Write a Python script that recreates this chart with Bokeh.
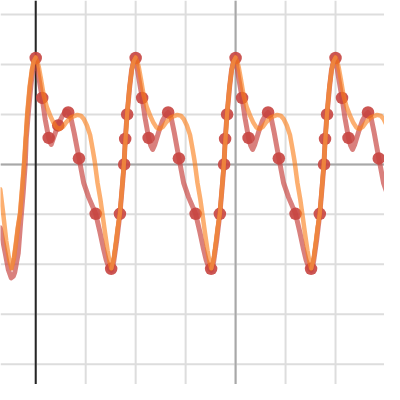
from bokeh.plotting import figure
from bokeh.models import Range1d, Span
from bokeh.embed import file_html
from bokeh.resources import INLINE

# ---------------- data ----------------
grid_x = [0, 1, 2, 3, 4, 5, 6, 7]
grid_y = [-4, -3, -2, -1, 0, 1, 2, 3]

# red data points
dot_x = [0.0, 0.13, 0.26, 0.45, 0.65, 0.865, 1.2, 1.51, 1.685, 1.77, 1.79, 1.83,
         2.0, 2.13, 2.26, 2.65, 2.865, 3.2, 3.51, 3.685, 3.77, 3.79, 3.83,
         4.0, 4.13, 4.26, 4.65, 4.865, 5.2, 5.51, 5.685, 5.77, 5.79, 5.83,
         6.0, 6.13, 6.26, 6.65, 6.865]
dot_y = [2.13, 1.33, 0.53, 0.78, 1.04, 0.12, -0.99, -2.09, -0.99, 0.0, 0.51, 1.0,
         2.13, 1.33, 0.53, 1.04, 0.12, -0.99, -2.09, -0.99, 0.0, 0.51, 1.0,
         2.13, 1.33, 0.53, 1.04, 0.12, -0.99, -2.09, -0.99, 0.0, 0.51, 1.0,
         2.13, 1.33, 0.53, 1.04, 0.12]

# red curve
red_x_left = [-0.71, -0.61, -0.55, -0.49, -0.45, -0.42, -0.35, -0.30, -0.25, -0.21, -0.19, -0.15, -0.10, -0.06, -0.02]
red_y_left = [-1.27, -1.78, -2.10, -2.27, -2.24, -2.16, -1.78, -1.14, -0.56, 0.01, 0.51, 1.01, 1.55, 1.90, 2.07]
red_x_p0 = [0.0, 0.06, 0.13, 0.19, 0.26, 0.31, 0.385, 0.45, 0.54, 0.60, 0.65, 0.70, 0.77, 0.865, 0.96,
            1.06, 1.15, 1.20, 1.28, 1.35, 1.41, 1.47, 1.515, 1.56, 1.62, 1.685, 1.73, 1.77, 1.79, 1.83, 1.88, 1.92, 1.96]
red_y_p0 = [2.13, 1.75, 1.32, 0.90, 0.53, 0.40, 0.61, 0.80, 0.98, 1.07, 1.05, 0.95, 0.63, 0.13, -0.37,
            -0.66, -0.87, -0.99, -1.33, -1.66, -1.91, -2.08, -2.12, -1.95, -1.53, -0.99, -0.47, 0.01, 0.51, 1.01, 1.55, 1.90, 2.07]
red_x_p1 = [2.0, 2.06, 2.13, 2.19, 2.26, 2.30, 2.34, 2.385, 2.46, 2.54, 2.60, 2.65, 2.71, 2.77, 2.865, 2.96,
            3.06, 3.15, 3.20, 3.28, 3.35, 3.41, 3.47, 3.515, 3.56, 3.62, 3.685, 3.73, 3.77, 3.79, 3.83, 3.88, 3.92, 3.96]
red_y_p1 = [2.13, 1.74, 1.33, 0.92, 0.53, 0.38, 0.30, 0.40, 0.65, 0.88, 0.99, 1.04, 0.94, 0.65, 0.13, -0.37,
            -0.66, -0.87, -0.99, -1.33, -1.66, -1.91, -2.08, -2.12, -1.95, -1.53, -0.99, -0.47, 0.01, 0.51, 1.01, 1.55, 1.90, 2.07]
red_x_p2 = [4.0, 4.06, 4.13, 4.19, 4.26, 4.30, 4.34, 4.385, 4.46, 4.54, 4.60, 4.65, 4.71, 4.77, 4.865, 4.96,
            5.06, 5.15, 5.20, 5.28, 5.35, 5.41, 5.47, 5.515, 5.56, 5.62, 5.685, 5.73, 5.77, 5.79, 5.83, 5.88, 5.92, 5.96]
red_y_p2 = [2.13, 1.74, 1.33, 0.92, 0.53, 0.38, 0.30, 0.40, 0.65, 0.88, 0.99, 1.04, 0.94, 0.65, 0.13, -0.37,
            -0.66, -0.87, -0.99, -1.33, -1.66, -1.91, -2.08, -2.12, -1.95, -1.53, -0.99, -0.47, 0.01, 0.51, 1.01, 1.55, 1.90, 2.07]
red_x_p3 = [6.0, 6.06, 6.13, 6.19, 6.26, 6.30, 6.34, 6.385, 6.46, 6.54, 6.60, 6.65, 6.71, 6.77, 6.865, 6.96, 7.06]
red_y_p3 = [2.13, 1.74, 1.33, 0.92, 0.53, 0.38, 0.30, 0.40, 0.65, 0.88, 0.99, 1.04, 0.94, 0.65, 0.13, -0.37, -0.66]

# light orange curve
org_x_left = [-0.71, -0.65, -0.59, -0.53, -0.485, -0.437, -0.398, -0.36, -0.315, -0.273, -0.235, -0.202, -0.171, -0.123, -0.077, -0.038]
org_y_left = [-0.50, -0.99, -1.53, -1.91, -2.08, -1.87, -1.58, -1.27, -0.98, -0.47, 0.01, 0.51, 1.01, 1.55, 1.90, 2.07]
org_y_per = [2.14, 2.05, 1.94, 1.69, 1.38, 1.15, 0.98, 0.84, 0.74, 0.71, 0.75, 0.84, 0.94, 0.99, 0.97, 0.91,
             0.78, 0.59, 0.30, 0.07, -0.37, -0.70, -1.04, -1.39, -1.72, -1.95, -2.08, -1.87, -1.58, -1.27,
             -0.98, -0.47, 0.01, 0.51, 1.01, 1.55, 1.90, 2.07]
org_x_p0 = [0.0, 0.033, 0.063, 0.108, 0.16, 0.221, 0.288, 0.352, 0.415, 0.481, 0.544, 0.608, 0.704, 0.833, 0.91, 0.962,
            1.025, 1.088, 1.14, 1.179, 1.237, 1.294, 1.342, 1.39, 1.438, 1.477, 1.515, 1.563, 1.602, 1.64,
            1.685, 1.727, 1.765, 1.798, 1.829, 1.877, 1.923, 1.962]
org_x_p1 = [2.0, 2.033, 2.063, 2.108, 2.16, 2.221, 2.288, 2.352, 2.415, 2.481, 2.544, 2.608, 2.704, 2.833, 2.91, 2.962,
            3.025, 3.088, 3.14, 3.179, 3.237, 3.294, 3.342, 3.39, 3.438, 3.477, 3.515, 3.563, 3.602, 3.64,
            3.685, 3.727, 3.765, 3.798, 3.829, 3.877, 3.923, 3.962]
org_x_p2 = [4.0, 4.033, 4.063, 4.108, 4.16, 4.221, 4.288, 4.352, 4.415, 4.481, 4.544, 4.608, 4.704, 4.833, 4.91, 4.962,
            5.025, 5.088, 5.14, 5.179, 5.237, 5.294, 5.342, 5.39, 5.438, 5.477, 5.515, 5.563, 5.602, 5.64,
            5.685, 5.727, 5.765, 5.798, 5.829, 5.877, 5.923, 5.962]
org_x_p3 = [6.0, 6.033, 6.063, 6.108, 6.16, 6.221, 6.288, 6.352, 6.415, 6.481, 6.544, 6.608, 6.704, 6.833, 6.91, 6.962, 7.025]
org_y_p3 = [2.14, 2.05, 1.94, 1.69, 1.38, 1.15, 0.98, 0.84, 0.74, 0.71, 0.75, 0.84, 0.94, 0.99, 0.97, 0.91, 0.78]

# dark orange rising segments
rise_xs = [
    [-0.485, -0.437, -0.398, -0.36, -0.315, -0.273, -0.235, -0.202, -0.171, -0.123, -0.077, -0.038, 0.0],
    [1.515, 1.563, 1.602, 1.64, 1.685, 1.727, 1.765, 1.798, 1.829, 1.877, 1.923, 1.962, 2.0],
    [3.515, 3.563, 3.602, 3.64, 3.685, 3.727, 3.765, 3.798, 3.829, 3.877, 3.923, 3.962, 4.0],
    [5.515, 5.563, 5.602, 5.64, 5.685, 5.727, 5.765, 5.798, 5.829, 5.877, 5.923, 5.962, 6.0],
]
rise_y = [-2.08, -1.87, -1.58, -1.27, -0.98, -0.47, 0.01, 0.51, 1.01, 1.55, 1.90, 2.07, 2.14]
rise_ys = [rise_y, rise_y, rise_y, rise_y]

red_x = red_x_left + red_x_p0 + red_x_p1 + red_x_p2 + red_x_p3
red_y = red_y_left + red_y_p0 + red_y_p1 + red_y_p2 + red_y_p3
org_x = org_x_left + org_x_p0 + org_x_p1 + org_x_p2 + org_x_p3
org_y = org_y_left + org_y_per + org_y_per + org_y_per + org_y_p3

# ---------------- figure ----------------
p = figure(width=384, height=384,
           x_range=Range1d(-0.705, 6.980), y_range=Range1d(-4.405, 3.280),
           output_backend="svg", toolbar_location=None,
           x_axis_location=None, y_axis_location=None,
           min_border=0, outline_line_color=None,
           background_fill_color="white", border_fill_color="white")
p.grid.visible = False

for gx in grid_x:
    p.add_layout(Span(location=gx, dimension="height", line_color="#dddddd", line_width=2, level="underlay"))
for gy in grid_y:
    p.add_layout(Span(location=gy, dimension="width", line_color="#dddddd", line_width=2, level="underlay"))
p.add_layout(Span(location=4, dimension="height", line_color="#a8a8a8", line_width=2, level="underlay"))
p.add_layout(Span(location=0, dimension="width", line_color="#a8a8a8", line_width=2, level="underlay"))
p.add_layout(Span(location=0, dimension="height", line_color="#262626", line_width=2, level="underlay"))

p.line(red_x, red_y, line_color="#c74440", line_alpha=0.68, line_width=5,
       line_join="round", line_cap="round")
p.scatter(dot_x, dot_y, size=12.5, fill_color="#c74440", fill_alpha=0.9, line_color=None)
p.line(org_x, org_y, line_color="#fa7e19", line_alpha=0.62, line_width=4.5,
       line_join="round", line_cap="round")
p.multi_line(rise_xs, rise_ys, line_color="#ee8540", line_alpha=0.92, line_width=4,
             line_join="round", line_cap="round")

open("out.html", "w").write(file_html(p, INLINE))
